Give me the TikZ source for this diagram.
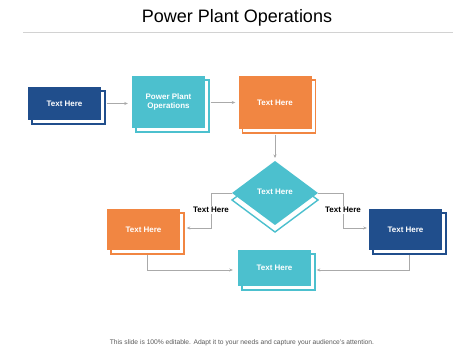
\documentclass[tikz,border=0pt]{standalone}
\usepackage{fontspec}
\setmainfont{Liberation Sans}
\usetikzlibrary{arrows.meta,calc}
\definecolor{dblue}{RGB}{32,78,140}
\definecolor{teal2}{RGB}{76,192,206}
\definecolor{orng}{RGB}{241,134,66}
\definecolor{conn}{RGB}{170,170,170}
\definecolor{rule}{RGB}{210,210,210}
\definecolor{foot}{RGB}{90,90,90}
\tikzset{
  front/.style={rectangle, inner sep=0pt, minimum width=73pt, text=white,
    font=\fontsize{8}{9.5}\selectfont\bfseries, align=center},
  shadowbox/.style={rectangle, inner sep=0pt, minimum width=73pt, fill=white, line width=1.4pt},
  connline/.style={draw=conn, line width=0.8pt, -{Stealth[length=3.5pt,width=3pt]}},
  lbl/.style={fill=white, inner sep=1pt, font=\fontsize{8}{9.5}\selectfont\bfseries, text=black},
}
\begin{document}
\begin{tikzpicture}[x=1pt,y=-1pt]
\useasboundingbox[fill=white] (0,0) rectangle (474,355);
% title
\node[font=\fontsize{18}{20}\selectfont] (title) at (237,18) {Power Plant Operations};
\coordinate (rl) at (23,32);
\coordinate (rr) at (453,32);
\draw[rule, line width=0.9pt] (rl) -- (rr);

% box 1
\node[shadowbox, draw=dblue, minimum height=33pt] (b1s) at (68.5,107.5) {};
\node[front, fill=dblue, minimum height=33pt] (b1) at (64.5,103.5) {Text Here};
% box 2
\node[shadowbox, draw=teal2, minimum height=52pt] (b2s) at (172.5,106) {};
\node[front, fill=teal2, minimum height=52pt] (b2) at (168.5,102) {Power Plant\\Operations};
% box 3
\node[shadowbox, draw=orng, minimum height=53pt] (b3s) at (279,106.5) {};
\node[front, fill=orng, minimum height=53pt] (b3) at (275,102.5) {Text Here};

% diamond
\draw[teal2, fill=white, line width=1.4pt] (232,200) -- (275,168) -- (318,200) -- (275,232) -- cycle;
\fill[teal2] (232,193) -- (275,161) -- (318,193) -- (275,225) -- cycle;
\coordinate (dw) at (232,193);
\coordinate (de) at (318,193);
\coordinate (dn) at (275,161);
\node[text=white, font=\fontsize{8}{9.5}\selectfont\bfseries] (dt) at (275,192) {Text Here};

% left orange
\node[shadowbox, draw=orng, minimum height=41pt] (o2s) at (147.5,233.5) {};
\node[front, fill=orng, minimum height=41pt] (o2) at (143.5,229.5) {Text Here};
% right blue
\node[shadowbox, draw=dblue, minimum height=41pt] (r2s) at (409.5,233.5) {};
\node[front, fill=dblue, minimum height=41pt] (r2) at (405.5,229.5) {Text Here};
% bottom teal
\node[shadowbox, draw=teal2, minimum height=36pt] (t2s) at (278.5,272) {};
\node[front, fill=teal2, minimum height=36pt] (t2) at (274.5,268) {Text Here};

% connectors
\draw[connline, shorten <=1pt, shorten >=4pt] (b1s.east |- b1) -- (b2.west |- b1);
\draw[connline, shorten <=1pt, shorten >=3pt] (b2s.east |- b3) -- (b3.west);
\draw[connline, shorten <=1pt, shorten >=3pt] (b3.center |- b3s.south) -- (dn);
\coordinate (lk) at (211,193);
\coordinate (rk) at (343,193);
\draw[connline, shorten >=2pt] (dw) -- (lk) |- (o2s.east |- 0,228);
\draw[connline, shorten >=2pt] (de) -- (rk) |- (r2.west |- 0,228);
\node[lbl] (ll) at (211,210) {Text Here};
\node[lbl] (rlb) at (343,210) {Text Here};
\draw[connline, shorten >=5pt] (o2s.south) |- (t2.west |- 0,270);
\draw[connline, shorten >=1pt] (r2s.south) |- (t2s.east |- 0,270);

% footer
\node[text=foot, font=\fontsize{6.7}{8}\selectfont] (ft) at (242,343) {This slide is 100\% editable. Adapt it to your needs and capture your audience's attention.};
\end{tikzpicture}
\end{document}
